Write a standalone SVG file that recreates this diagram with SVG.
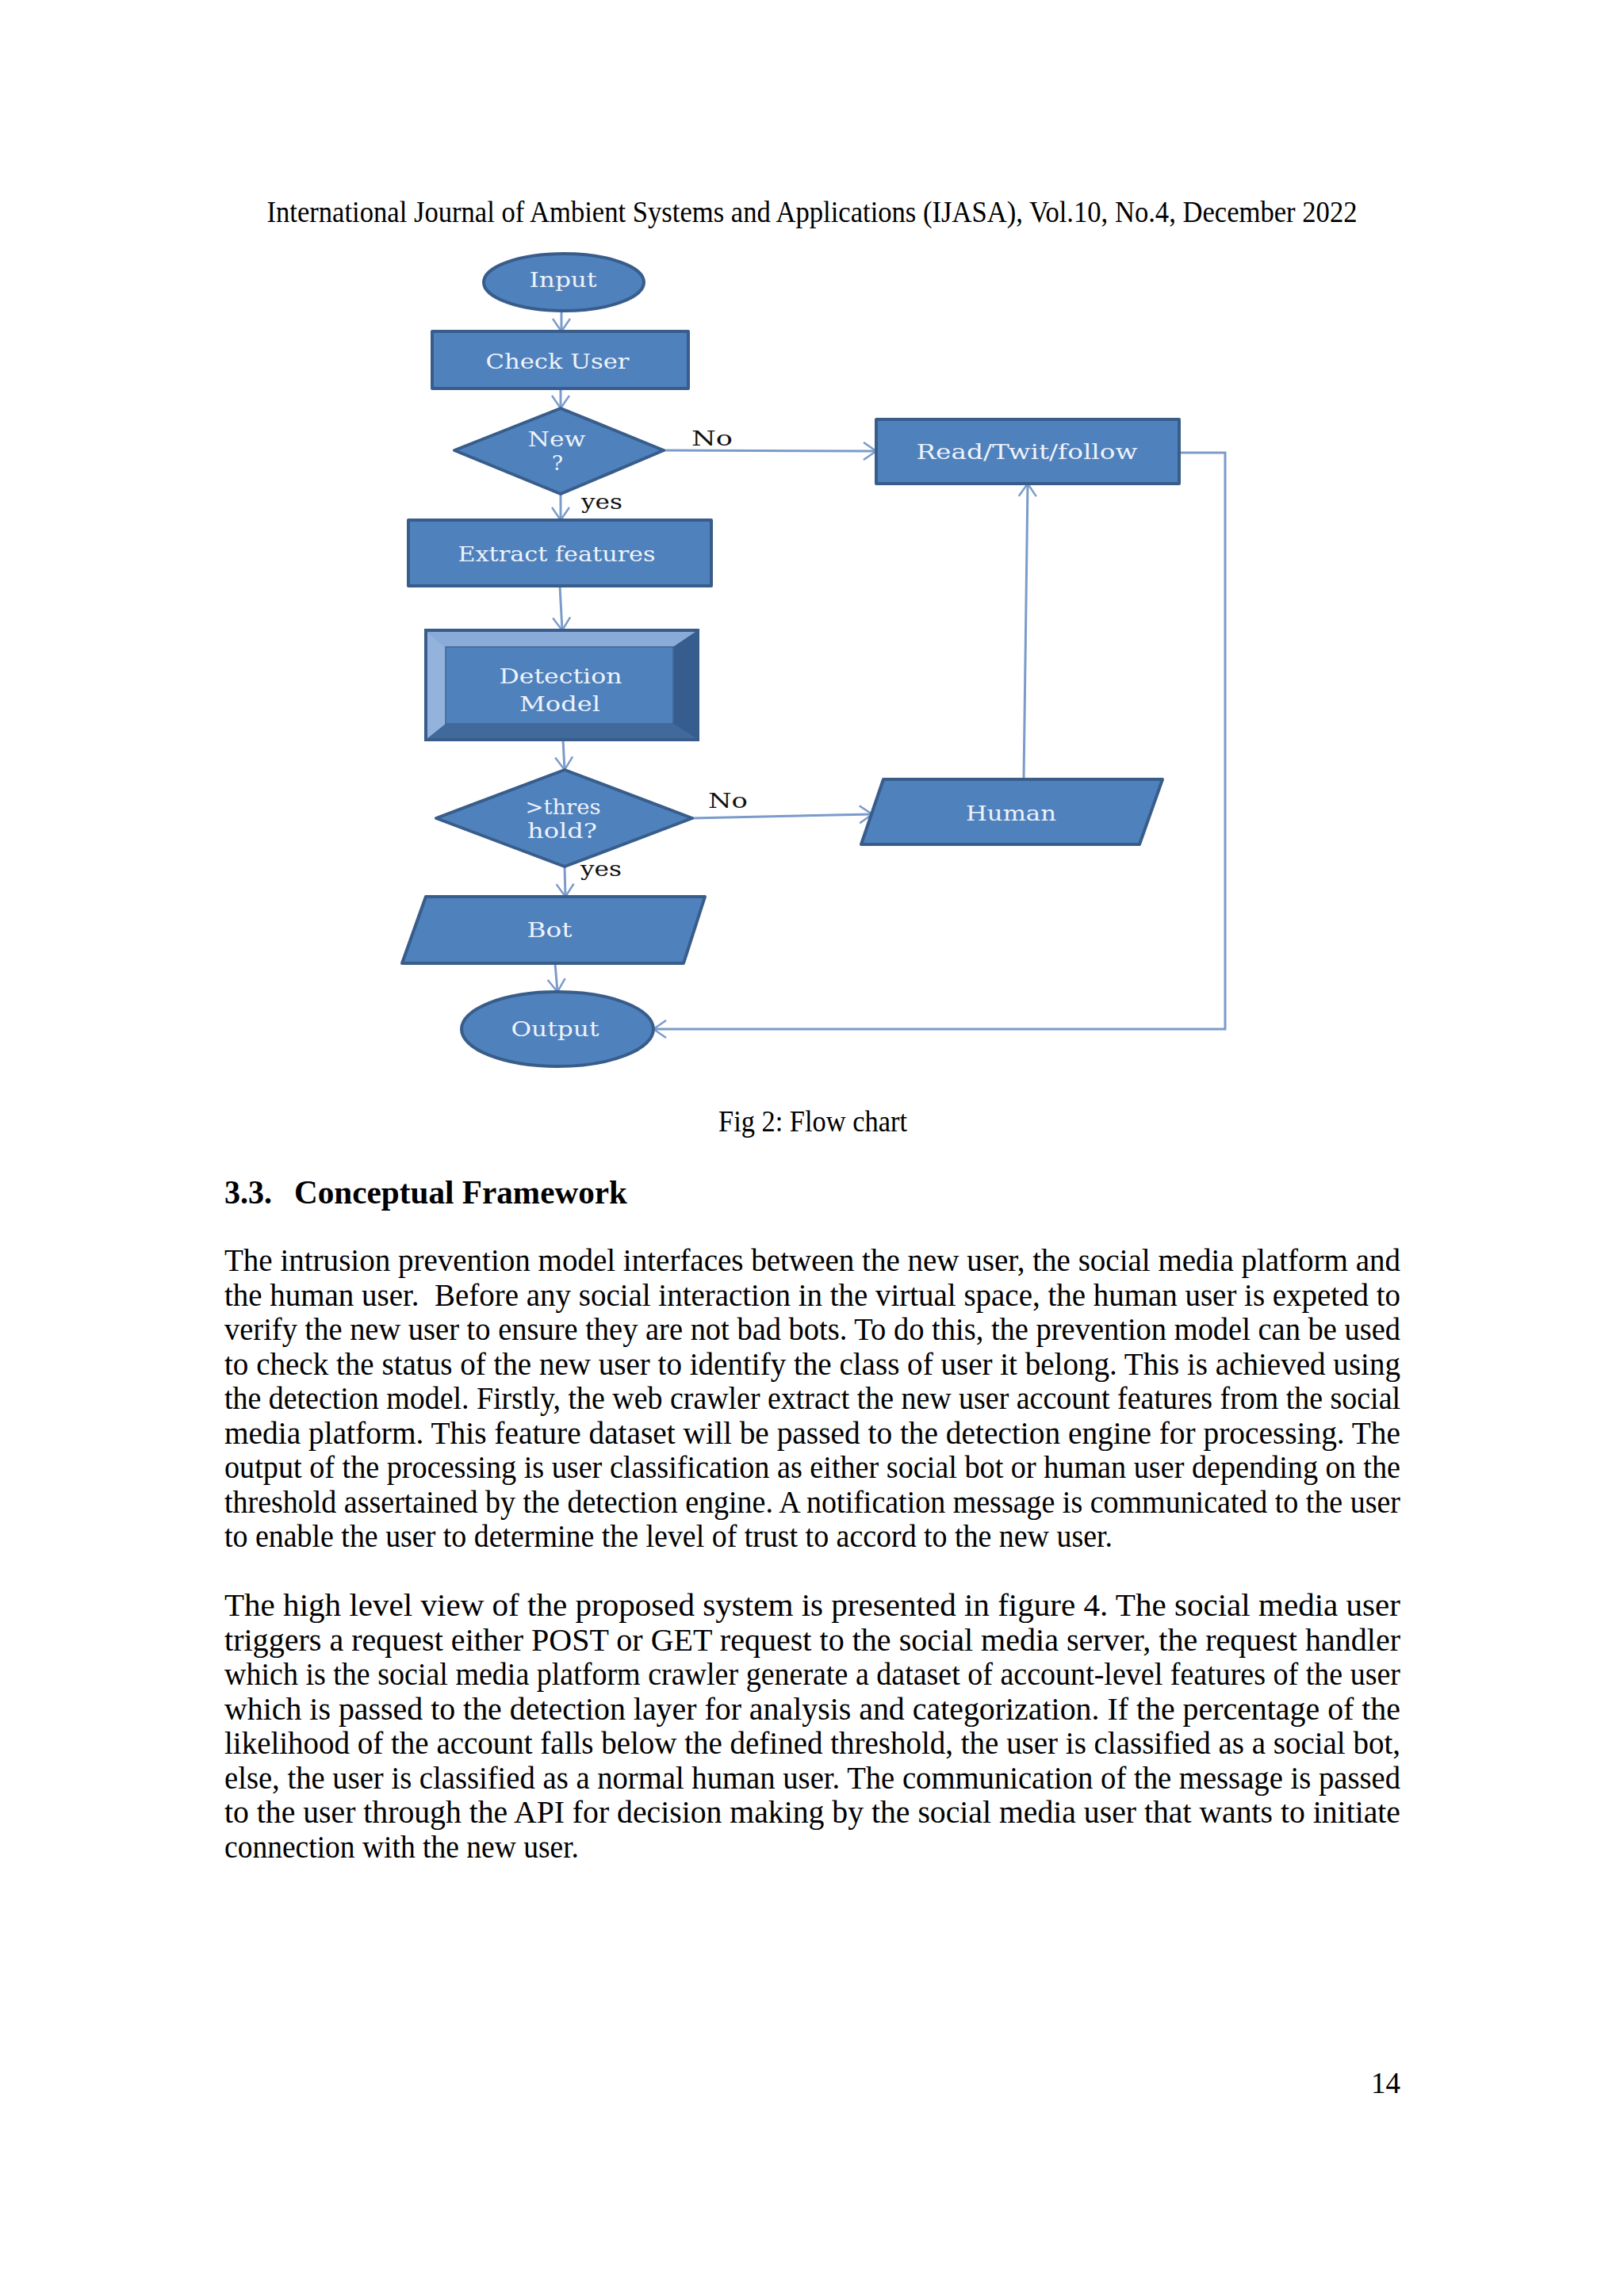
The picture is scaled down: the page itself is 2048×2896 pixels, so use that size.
<svg xmlns="http://www.w3.org/2000/svg" width="2048" height="2896" viewBox="0 0 2048 2896">
<style>
.node{fill:#4f81bd;stroke:#385d8a;stroke-width:4;stroke-linejoin:round}
.lbl{font-family:"DejaVu Serif",serif;font-size:26px;fill:#eef3fa;text-anchor:middle}
.edge{stroke:#7b9bcb;stroke-width:3;fill:none}
.elbl{font-family:"DejaVu Serif",serif;font-size:26px;fill:#111}
.body{font-family:"Liberation Serif",serif;font-size:41px;fill:#000}
.hdr{font-family:"Liberation Serif",serif;font-size:37px;fill:#000}
</style>
<defs>
<marker id="arr" viewBox="0 0 18 24" refX="17" refY="12" markerWidth="18" markerHeight="24" markerUnits="userSpaceOnUse" orient="auto">
<path d="M1,1 L17,12 L1,23" fill="none" stroke="#7b9bcb" stroke-width="2.5"/>
</marker>
</defs>
<rect width="2048" height="2896" fill="#fff"/>
<text class="hdr" x="1024" y="280" text-anchor="middle" textLength="1375" lengthAdjust="spacingAndGlyphs">International Journal of Ambient Systems and Applications (IJASA), Vol.10, No.4, December 2022</text>

<g id="connectors">
<line class="edge" x1="708" y1="392" x2="708" y2="418" marker-end="url(#arr)"/>
<line class="edge" x1="707" y1="490" x2="707" y2="515" marker-end="url(#arr)"/>
<line class="edge" x1="707" y1="623" x2="707" y2="656" marker-end="url(#arr)"/>
<line class="edge" x1="706" y1="739" x2="709" y2="795" marker-end="url(#arr)"/>
<line class="edge" x1="710" y1="933" x2="712" y2="971" marker-end="url(#arr)"/>
<line class="edge" x1="712" y1="1093" x2="713" y2="1131" marker-end="url(#arr)"/>
<line class="edge" x1="700" y1="1215" x2="703" y2="1251" marker-end="url(#arr)"/>
<line class="edge" x1="837" y1="568" x2="1105" y2="569" marker-end="url(#arr)"/>
<line class="edge" x1="873" y1="1032" x2="1100" y2="1027" marker-end="url(#arr)"/>
<line class="edge" x1="1291" y1="983" x2="1296" y2="610" marker-end="url(#arr)"/>
<path class="edge" d="M1487,571 H1545 V1298 H824" marker-end="url(#arr)"/>
<text class="elbl" x="872" y="562" textLength="52" lengthAdjust="spacingAndGlyphs">No</text>
<text class="elbl" x="733" y="642" textLength="52" lengthAdjust="spacingAndGlyphs">yes</text>
<text class="elbl" x="893" y="1019" textLength="50" lengthAdjust="spacingAndGlyphs">No</text>
<text class="elbl" x="732" y="1105" textLength="52" lengthAdjust="spacingAndGlyphs">yes</text>
</g>

<g id="input">
<ellipse class="node" cx="711" cy="356" rx="101" ry="36"/>
<text class="lbl" x="710" y="362" textLength="85" lengthAdjust="spacingAndGlyphs">Input</text>
</g>
<g id="check-user">
<rect class="node" x="545" y="418" width="323" height="72"/>
<text class="lbl" x="703" y="465" textLength="181" lengthAdjust="spacingAndGlyphs">Check User</text>
</g>
<g id="new">
<polygon class="node" points="707,515 837,568 707,623 573,568"/>
<text class="lbl" x="702" y="563" textLength="73" lengthAdjust="spacingAndGlyphs">New</text>
<text class="lbl" x="703" y="593">?</text>
</g>
<g id="extract">
<rect class="node" x="515" y="656" width="382" height="83"/>
<text class="lbl" x="702" y="708" textLength="249" lengthAdjust="spacingAndGlyphs">Extract features</text>
</g>
<g id="detection">
<rect x="537" y="795" width="343" height="138" fill="#4f81bd"/>
<polygon points="537,795 880,795 849,816 562,816" fill="#8aabd8"/>
<polygon points="537,795 562,816 562,913 537,933" fill="#93b2dc"/>
<polygon points="880,795 880,933 849,913 849,816" fill="#365d8d"/>
<polygon points="537,933 562,913 849,913 880,933" fill="#41699c"/>
<rect x="537" y="795" width="343" height="138" fill="none" stroke="#385d8a" stroke-width="4"/>
<rect x="562" y="816" width="287" height="97" fill="none" stroke="#3f6598" stroke-width="1.5"/>
<text class="lbl" x="707" y="862" textLength="155" lengthAdjust="spacingAndGlyphs">Detection</text>
<text class="lbl" x="706" y="897" textLength="102" lengthAdjust="spacingAndGlyphs">Model</text>
</g>
<g id="threshold">
<polygon class="node" points="712,971 873,1032 712,1093 550,1032"/>
<text class="lbl" x="710" y="1027" textLength="95" lengthAdjust="spacingAndGlyphs">&gt;thres</text>
<text class="lbl" x="709" y="1057" textLength="88" lengthAdjust="spacingAndGlyphs">hold?</text>
</g>
<g id="bot">
<polygon class="node" points="537,1131 889,1131 862,1215 507,1215"/>
<text class="lbl" x="693" y="1182" textLength="57" lengthAdjust="spacingAndGlyphs">Bot</text>
</g>
<g id="output">
<ellipse class="node" cx="703" cy="1298" rx="121" ry="47"/>
<text class="lbl" x="700" y="1307" textLength="111" lengthAdjust="spacingAndGlyphs">Output</text>
</g>
<g id="read">
<rect class="node" x="1105" y="529" width="382" height="81"/>
<text class="lbl" x="1295" y="579" textLength="279" lengthAdjust="spacingAndGlyphs">Read/Twit/follow</text>
</g>
<g id="human">
<polygon class="node" points="1114,983 1466,983 1437,1065 1086,1065"/>
<text class="lbl" x="1275" y="1035" textLength="114" lengthAdjust="spacingAndGlyphs">Human</text>
</g>

<text class="hdr" x="906" y="1427" textLength="238" lengthAdjust="spacingAndGlyphs">Fig 2: Flow chart</text>
<text font-family="Liberation Serif, serif" font-size="43" font-weight="bold" x="283" y="1518" textLength="60" lengthAdjust="spacingAndGlyphs">3.3.</text>
<text font-family="Liberation Serif, serif" font-size="43" font-weight="bold" x="371" y="1518" textLength="420" lengthAdjust="spacingAndGlyphs">Conceptual Framework</text>

<g class="body">
<text x="283" y="1603" textLength="1483" lengthAdjust="spacingAndGlyphs">The intrusion prevention model interfaces between the new user, the social media platform and</text>
<text x="283" y="1646.5" textLength="1483" lengthAdjust="spacingAndGlyphs" xml:space="preserve">the human user.  Before any social interaction in the virtual space, the human user is expeted to</text>
<text x="283" y="1690" textLength="1483" lengthAdjust="spacingAndGlyphs">verify the new user to ensure they are not bad bots. To do this, the prevention model can be used</text>
<text x="283" y="1733.5" textLength="1483" lengthAdjust="spacingAndGlyphs">to check the status of the new user to identify the class of user it belong. This is achieved using</text>
<text x="283" y="1777" textLength="1483" lengthAdjust="spacingAndGlyphs">the detection model. Firstly, the web crawler extract the new user account features from the social</text>
<text x="283" y="1820.5" textLength="1483" lengthAdjust="spacingAndGlyphs">media platform. This feature dataset will be passed to the detection engine for processing. The</text>
<text x="283" y="1864" textLength="1483" lengthAdjust="spacingAndGlyphs">output of the processing is user classification as either social bot or human user depending on the</text>
<text x="283" y="1907.5" textLength="1483" lengthAdjust="spacingAndGlyphs">threshold assertained by the detection engine. A notification message is communicated to the user</text>
<text x="283" y="1951" textLength="1120" lengthAdjust="spacingAndGlyphs">to enable the user to determine the level of trust to accord to the new user.</text>
<text x="283" y="2038" textLength="1483" lengthAdjust="spacingAndGlyphs">The high level view of the proposed system is presented in figure 4. The social media user</text>
<text x="283" y="2081.5" textLength="1483" lengthAdjust="spacingAndGlyphs">triggers a request either POST or GET request to the social media server, the request handler</text>
<text x="283" y="2125" textLength="1483" lengthAdjust="spacingAndGlyphs">which is the social media platform crawler generate a dataset of account-level features of the user</text>
<text x="283" y="2168.5" textLength="1483" lengthAdjust="spacingAndGlyphs">which is passed to the detection layer for analysis and categorization. If the percentage of the</text>
<text x="283" y="2212" textLength="1483" lengthAdjust="spacingAndGlyphs">likelihood of the account falls below the defined threshold, the user is classified as a social bot,</text>
<text x="283" y="2255.5" textLength="1483" lengthAdjust="spacingAndGlyphs">else, the user is classified as a normal human user. The communication of the message is passed</text>
<text x="283" y="2299" textLength="1483" lengthAdjust="spacingAndGlyphs">to the user through the API for decision making by the social media user that wants to initiate</text>
<text x="283" y="2342.5" textLength="447" lengthAdjust="spacingAndGlyphs">connection with the new user.</text>
</g>
<text class="hdr" x="1766" y="2640" text-anchor="end">14</text>
</svg>
